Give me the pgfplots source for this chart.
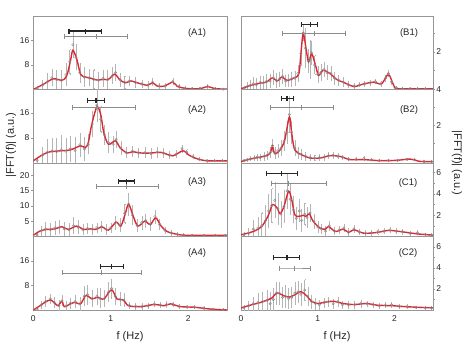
\documentclass[border=0pt]{standalone}
\usepackage{fontspec}
\setmainfont{Liberation Sans}
\setsansfont{Liberation Sans}
\usepackage{pgfplots}
\pgfplotsset{compat=1.18}
\definecolor{fftred}{RGB}{220,40,50}
\definecolor{framegray}{RGB}{150,150,150}
\definecolor{errgray}{RGB}{180,180,180}
\definecolor{indgray}{RGB}{140,140,140}
\tikzset{plab/.style={font=\fontsize{9.5}{10}\selectfont, text=black!85}}
\pgfplotsset{
  panel/.style={scale only axis, width=193.7pt, height=73.5pt, xmin=0, xmax=2.5,
    axis line style={framegray, line width=0.6pt}, xtick={0,1,2}, xticklabels={},
    xtick pos=bottom, tick align=outside, major tick length=2.2pt, minor tick length=1.5pt,
    tick style={framegray, line width=0.5pt}, major x tick style={draw=none},
    /pgf/number format/assume math mode=true,
    tick label style={font=\fontsize{8.5}{9}\selectfont, text=black!85}},
  leftpanel/.style={panel, ytick pos=left, yticklabel style={inner sep=1.5pt}},
  rightpanel/.style={panel, width=192pt, ytick pos=right, yticklabel style={inner sep=1pt}},
  redline/.style={fftred, line width=1.4pt, smooth, tension=0.5, no marks},
  datapts/.style={only marks, mark=o, mark size=1.2pt, draw=gray!90, mark options={line width=0.45pt, draw=gray!90},
    /pgfplots/error bars/y dir=both, /pgfplots/error bars/y explicit,
    /pgfplots/error bars/error bar style={errgray, line width=0.5pt},
    /pgfplots/error bars/error mark options={mark size=0.8pt, errgray}},
  indblack/.style={black!85, line width=1.2pt, mark=|, mark size=2.5pt, mark options={line width=1.2pt}},
  indgr/.style={indgray, line width=0.8pt, mark=|, mark size=2.5pt, mark options={line width=0.8pt}},
}
\begin{document}
\begin{tikzpicture}[x=1pt,y=1pt]
\useasboundingbox (0,0) rectangle (474,349);
% ---------------- A1
\begin{axis}[leftpanel, at={(33.3pt,259.5pt)}, anchor=south west, ymin=0, ymax=24, ytick={8,16}]
\addplot[datapts] table[row sep=\\, x index=0, y index=1, y error index=2]{
0.05 0.3 0.5\\ 0.12 1.5 1.5\\ 0.18 2.5 2.5\\ 0.24 3.8 2.5\\ 0.30 3.2 3\\ 0.36 3.0 3\\
0.42 4.8 3.5\\ 0.47 9.0 4\\ 0.51 14.6 4\\ 0.55 10.5 4\\ 0.60 5.5 3\\ 0.66 4.0 3\\
0.72 3.8 2.5\\ 0.78 3.3 3\\ 0.84 3.0 2.5\\ 0.90 3.6 2.5\\ 0.96 3.2 3\\ 1.02 4.5 2.5\\
1.06 5.5 2.5\\ 1.12 3.2 2\\ 1.18 2.3 2\\ 1.24 2.8 1.5\\ 1.32 2.3 1.5\\ 1.40 1.8 1.2\\
1.48 1.4 1\\ 1.54 2.4 1\\ 1.62 1.2 0.8\\ 1.70 1.1 0.8\\ 1.80 2.6 1\\ 1.88 1.0 0.6\\
1.96 0.4 0.4\\ 2.05 0.3 0.3\\ 2.15 0.3 0.3\\ 2.25 1.0 0.5\\ 2.35 0.3 0.3\\ 2.45 0.1 0.2\\
};
\addplot[redline] coordinates {(0,0) (0.13,1.7) (0.26,3.5) (0.37,3.0) (0.43,4.4) (0.48,9.4) (0.51,12.8) (0.56,10) (0.61,5) (0.67,4.1) (0.74,3.7) (0.82,3.1) (0.91,3.3) (0.97,3.3) (1.05,5.0) (1.12,3.1) (1.19,2.2) (1.26,2.8) (1.34,2.2) (1.47,1.4) (1.54,2.2) (1.60,1.1) (1.69,1.1) (1.80,2.4) (1.86,1.0) (1.99,0.3) (2.16,0.3) (2.25,1.0) (2.34,0.3) (2.5,0.1)};
\addplot[indblack] coordinates {(0.46,19.1) (0.67,19.1) (0.88,19.1)};
\addplot[indgr] coordinates {(0.40,17.2) (0.82,17.2) (1.22,17.2)};
\node[plab] at (rel axis cs:0.845,0.77) {(A1)};
\end{axis}
% ---------------- A2
\begin{axis}[leftpanel, at={(33.3pt,186pt)}, anchor=south west, ymin=0, ymax=23.5, ytick={8,16}]
\addplot[datapts] table[row sep=\\, x index=0, y index=1, y error index=2]{
0.05 0.8 1\\ 0.12 2.5 2.5\\ 0.18 3.4 4\\ 0.24 3.8 4\\ 0.30 3.6 4\\ 0.36 4.2 4.5\\
0.42 3.8 4\\ 0.48 4.5 4\\ 0.54 4.0 4\\ 0.60 5.8 3.5\\ 0.66 4.5 3.5\\ 0.71 6.0 3\\
0.76 12.5 4\\ 0.82 18.5 5\\ 0.87 14.0 4\\ 0.92 9.0 3\\ 0.97 6.5 3\\ 1.03 6.0 2.5\\
1.07 7.5 2.5\\ 1.13 4.8 2\\ 1.20 3.3 1.5\\ 1.28 3.8 1.5\\ 1.36 3.2 1.5\\ 1.44 3.3 1.5\\
1.52 3.0 1.5\\ 1.60 3.5 1.5\\ 1.68 3.2 1.2\\ 1.76 2.5 1\\ 1.84 2.8 1\\ 1.92 4.6 1\\
1.98 3.5 0.8\\ 2.06 2.0 0.6\\ 2.14 1.2 0.4\\ 2.24 0.7 0.3\\ 2.34 0.7 0.2\\ 2.44 0.7 0.2\\
};
\addplot[redline] coordinates {(0,0.7) (0.13,2.8) (0.22,3.6) (0.35,3.9) (0.48,4.2) (0.61,5.5) (0.67,4.9) (0.71,6.5) (0.75,11.8) (0.82,17.9) (0.87,15.5) (0.91,9.7) (0.97,6.0) (1.06,7.1) (1.12,4.9) (1.21,3.2) (1.28,3.6) (1.39,3.2) (1.52,3.2) (1.65,3.4) (1.80,2.3) (1.93,3.9) (2.01,2.5) (2.12,1.3) (2.25,0.7) (2.5,0.7)};
\addplot[indblack] coordinates {(0.70,19.9) (0.81,19.9) (0.92,19.9)};
\addplot[indgr] coordinates {(0.50,17.8) (0.82,17.8) (1.32,17.8)};
\node[plab] at (rel axis cs:0.845,0.72) {(A2)};
\end{axis}
% ---------------- A3
\begin{axis}[leftpanel, at={(33.3pt,112.5pt)}, anchor=south west, ymin=0, ymax=24, ytick={5,10,15,20}]
\addplot[datapts] table[row sep=\\, x index=0, y index=1, y error index=2]{
0.05 0.5 0.5\\ 0.10 1.8 1.5\\ 0.16 2.5 2\\ 0.22 2.2 2\\ 0.28 2.8 2\\ 0.34 3.0 2\\
0.40 2.5 2\\ 0.46 2.2 2\\ 0.52 3.5 2.5\\ 0.58 3.0 2\\ 0.64 2.2 1.5\\ 0.70 2.6 1.5\\
0.76 2.4 1.5\\ 0.82 2.8 1.5\\ 0.88 3.2 1.5\\ 0.94 2.4 1.5\\ 1.00 2.8 1.5\\ 1.06 4.5 2\\
1.12 3.8 2\\ 1.18 7.5 3\\ 1.23 10.5 3.5\\ 1.28 7.0 3\\ 1.34 3.6 2\\ 1.40 4.5 2\\
1.45 5.2 2\\ 1.51 4.0 2\\ 1.57 6.5 2\\ 1.63 4.0 1.5\\ 1.70 2.0 1\\ 1.78 1.2 0.8\\
1.86 0.7 0.4\\ 1.94 0.5 0.3\\ 2.05 0.4 0.2\\ 2.20 0.4 0.2\\ 2.35 0.4 0.2\\ 2.48 0.4 0.2\\
};
\addplot[redline] coordinates {(0,0.4) (0.087,1.8) (0.17,2.3) (0.28,2.5) (0.37,3.2) (0.45,2.3) (0.56,3.4) (0.65,2.3) (0.74,2.5) (0.80,2.3) (0.89,3.1) (0.97,2.1) (1.07,4.7) (1.13,3.4) (1.19,7.7) (1.23,10.6) (1.29,6.6) (1.35,3.4) (1.44,5.0) (1.51,3.9) (1.58,6.1) (1.65,3.4) (1.73,1.6) (1.86,0.7) (1.99,0.4) (2.5,0.4)};
\addplot[indblack] coordinates {(1.10,18.1) (1.20,18.1) (1.31,18.1)};
\addplot[indgr] coordinates {(0.81,16.3) (1.20,16.3) (1.62,16.3)};
\node[plab] at (rel axis cs:0.845,0.74) {(A3)};
\end{axis}
% ---------------- A4
\begin{axis}[leftpanel, at={(33.3pt,39pt)}, anchor=south west, ymin=0, ymax=24, ytick={8,16}, xticklabels={0,1,2}]
\addplot[datapts] table[row sep=\\, x index=0, y index=1, y error index=2]{
0.05 0.3 0.5\\ 0.10 1.6 1\\ 0.16 2.8 1.5\\ 0.22 3.6 1.5\\ 0.27 2.4 1.5\\ 0.33 1.5 1.5\\
0.37 3.0 1.5\\ 0.42 1.3 1.5\\ 0.48 2.2 1.5\\ 0.54 2.8 2\\ 0.60 2.0 2\\ 0.66 4.5 3\\
0.70 5.0 3\\ 0.76 3.8 2.5\\ 0.82 4.5 2.5\\ 0.86 3.8 3\\ 0.92 3.8 2.5\\ 0.97 5.8 3\\
1.01 7.0 3\\ 1.06 4.5 2.5\\ 1.12 3.5 2\\ 1.17 3.2 2\\ 1.24 1.5 1\\ 1.32 1.2 0.8\\
1.40 1.1 0.8\\ 1.48 1.3 0.8\\ 1.56 1.9 0.8\\ 1.64 1.6 0.8\\ 1.72 1.8 0.8\\ 1.80 1.8 0.6\\
1.88 1.2 0.5\\ 1.98 1.0 0.4\\ 2.08 0.9 0.4\\ 2.20 0.6 0.3\\ 2.32 0.3 0.2\\ 2.45 0.1 0.2\\
};
\addplot[redline] coordinates {(0,0) (0.087,1.4) (0.15,2.5) (0.22,3.3) (0.28,2.2) (0.32,1.4) (0.37,2.9) (0.40,1.1) (0.48,2.0) (0.54,2.5) (0.61,2.0) (0.68,4.7) (0.76,3.6) (0.83,4.2) (0.91,3.6) (1.01,6.6) (1.08,3.6) (1.16,3.3) (1.23,1.4) (1.39,1.1) (1.56,1.8) (1.69,1.4) (1.77,2.0) (1.90,1.1) (2.08,0.9) (2.29,0.3) (2.5,0)};
\addplot[indblack] coordinates {(0.866,14.1) (1.01,14.1) (1.16,14.1)};
\addplot[indgr] coordinates {(0.38,12.1) (0.88,12.1) (1.39,12.1)};
\node[plab] at (rel axis cs:0.845,0.77) {(A4)};
\end{axis}
% ---------------- B1
\begin{axis}[rightpanel, at={(241pt,259.5pt)}, anchor=south west, ymin=0, ymax=3.9, ytick={2}, minor ytick={1,3}]
\addplot[datapts] table[row sep=\\, x index=0, y index=1, y error index=2]{
0.04 0.05 0.1\\ 0.08 0.15 0.2\\ 0.12 0.22 0.25\\ 0.16 0.30 0.3\\ 0.20 0.25 0.3\\ 0.25 0.38 0.3\\
0.29 0.35 0.35\\ 0.33 0.42 0.35\\ 0.38 0.45 0.35\\ 0.42 0.62 0.35\\ 0.46 0.48 0.35\\ 0.50 0.55 0.35\\
0.54 0.70 0.35\\ 0.58 0.45 0.3\\ 0.62 0.50 0.3\\ 0.66 0.55 0.35\\ 0.70 0.60 0.35\\ 0.74 0.85 0.4\\
0.78 1.9 0.6\\ 0.81 3.0 0.4\\ 0.84 2.2 1.0\\ 0.88 1.5 0.6\\ 0.90 1.6 1.0\\ 0.92 1.95 0.6\\
0.96 1.3 0.5\\ 1.00 0.8 0.4\\ 1.04 0.9 0.4\\ 1.08 1.05 0.35\\ 1.12 0.9 0.35\\ 1.17 0.85 0.35\\
1.22 0.6 0.3\\ 1.27 0.5 0.25\\ 1.33 0.4 0.2\\ 1.40 0.25 0.15\\ 1.47 0.18 0.1\\ 1.54 0.25 0.1\\
1.61 0.30 0.1\\ 1.68 0.35 0.1\\ 1.75 0.42 0.1\\ 1.82 0.30 0.1\\ 1.88 0.60 0.15\\ 1.92 0.85 0.15\\
1.96 0.40 0.1\\ 2.02 0.1 0.05\\ 2.10 0.04 0.03\\ 2.20 0.04 0.03\\ 2.30 0.04 0.03\\ 2.40 0.04 0.03\\
};
\addplot[redline] coordinates {(0,0.04) (0.12,0.21) (0.25,0.34) (0.33,0.39) (0.41,0.62) (0.47,0.45) (0.53,0.66) (0.60,0.48) (0.66,0.57) (0.75,0.80) (0.78,1.9) (0.81,2.98) (0.85,2.09) (0.88,1.46) (0.92,1.9) (0.97,1.29) (1.01,0.75) (1.07,1.02) (1.16,0.84) (1.25,0.52) (1.33,0.39) (1.47,0.16) (1.60,0.30) (1.73,0.39) (1.83,0.30) (1.92,0.80) (1.99,0.21) (2.05,0.04) (2.5,0.04)};
\addplot[indblack] coordinates {(0.79,3.46) (0.90,3.46) (0.995,3.46)};
\addplot[indgr] coordinates {(0.54,2.98) (0.96,2.98) (1.36,2.98)};
\node[plab] at (rel axis cs:0.875,0.77) {(B1)};
\end{axis}
% ---------------- B2
\begin{axis}[rightpanel, at={(241pt,186pt)}, anchor=south west, ymin=-0.13, ymax=4, ytick={2,4}, minor ytick={1,3}]
\addplot[datapts] table[row sep=\\, x index=0, y index=1, y error index=2]{
0.04 0.0 0.05\\ 0.08 0.05 0.08\\ 0.12 0.10 0.1\\ 0.17 0.15 0.12\\ 0.21 0.2 0.15\\ 0.25 0.18 0.15\\
0.30 0.25 0.2\\ 0.34 0.30 0.2\\ 0.38 0.45 0.25\\ 0.41 0.85 0.3\\ 0.44 0.45 0.3\\ 0.48 0.55 0.35\\
0.52 0.70 0.4\\ 0.56 1.1 0.5\\ 0.60 1.6 0.6\\ 0.63 2.6 1.0\\ 0.66 1.6 0.6\\ 0.70 0.7 0.4\\
0.74 0.45 0.3\\ 0.79 0.35 0.25\\ 0.84 0.25 0.2\\ 0.90 0.18 0.15\\ 0.96 0.15 0.15\\ 1.02 0.18 0.15\\
1.08 0.2 0.15\\ 1.14 0.28 0.15\\ 1.20 0.3 0.15\\ 1.26 0.25 0.12\\ 1.32 0.2 0.1\\ 1.40 0.08 0.08\\
1.50 0.08 0.06\\ 1.60 0.12 0.08\\ 1.70 0.05 0.05\\ 1.80 0.0 0.05\\ 1.92 0.02 0.05\\ 2.04 0.02 0.04\\
2.16 0.08 0.05\\ 2.26 0.05 0.04\\ 2.38 -0.04 0.03\\ 2.48 -0.05 0.03\\
};
\addplot[redline] coordinates {(0,-0.05) (0.12,0.09) (0.25,0.2) (0.33,0.28) (0.38,0.43) (0.41,0.8) (0.44,0.39) (0.51,0.61) (0.57,1.17) (0.63,2.46) (0.66,1.54) (0.70,0.61) (0.79,0.33) (0.90,0.15) (1.03,0.15) (1.16,0.28) (1.29,0.24) (1.42,0.06) (1.60,0.06) (1.81,0) (2.03,0.02) (2.20,0.09) (2.33,-0.04) (2.5,-0.05)};
\addplot[indblack] coordinates {(0.53,3.48) (0.60,3.48) (0.68,3.48)};
\addplot[indgr] coordinates {(0.38,2.98) (0.78,2.98) (1.20,2.98)};
\node[plab] at (rel axis cs:0.875,0.72) {(B2)};
\end{axis}
% ---------------- C1
\begin{axis}[rightpanel, at={(241pt,112.5pt)}, anchor=south west, ymin=0, ymax=6.9, ytick={2,4,6}, minor ytick={1,3,5}]
\addplot[datapts] table[row sep=\\, x index=0, y index=1, y error index=2]{
0.04 0.15 0.2\\ 0.10 0.3 0.4\\ 0.16 0.7 0.8\\ 0.22 0.8 1.0\\ 0.27 1.0 1.2\\ 0.32 1.5 1.4\\
0.36 2.4 1.5\\ 0.40 2.9 1.6\\ 0.44 3.4 1.6\\ 0.48 2.6 1.4\\ 0.52 2.1 1.2\\ 0.56 2.8 1.5\\
0.60 4.3 1.6\\ 0.64 3.5 1.4\\ 0.68 2.5 1.2\\ 0.72 1.7 1.0\\ 0.76 2.4 1.0\\ 0.79 1.5 1.0\\
0.83 2.1 1.0\\ 0.86 1.8 0.9\\ 0.90 2.2 0.8\\ 0.95 1.4 0.6\\ 1.00 0.9 0.5\\ 1.05 0.7 0.4\\
1.10 0.5 0.4\\ 1.15 1.0 0.4\\ 1.22 0.5 0.3\\ 1.28 0.6 0.3\\ 1.34 0.8 0.3\\ 1.40 0.4 0.3\\
1.47 0.7 0.3\\ 1.54 0.4 0.2\\ 1.62 0.3 0.2\\ 1.70 0.35 0.2\\ 1.78 0.4 0.2\\ 1.86 0.5 0.2\\
1.94 0.6 0.2\\ 2.02 0.5 0.2\\ 2.10 0.45 0.2\\ 2.20 0.3 0.15\\ 2.30 0.35 0.15\\ 2.40 0.2 0.1\\
2.48 0.12 0.1\\
};
\addplot[redline] coordinates {(0,0.16) (0.16,0.47) (0.27,0.94) (0.36,2.05) (0.41,3.0) (0.47,2.68) (0.51,2.14) (0.56,2.83) (0.62,4.25) (0.66,3.46) (0.70,2.05) (0.75,1.89) (0.81,1.98) (0.85,1.89) (0.89,2.14) (0.94,1.42) (1.03,0.79) (1.10,0.69) (1.14,0.94) (1.23,0.47) (1.33,0.69) (1.40,0.38) (1.47,0.63) (1.60,0.31) (1.77,0.38) (1.92,0.57) (2.07,0.47) (2.29,0.25) (2.5,0.13)};
\addplot[indblack] coordinates {(0.33,5.9) (0.53,5.9) (0.74,5.9)};
\addplot[indgr] coordinates {(0.40,5.0) (0.62,5.0) (1.11,5.0)};
\node[plab] at (rel axis cs:0.87,0.73) {(C1)};
\end{axis}
% ---------------- C2
\begin{axis}[rightpanel, at={(241pt,39pt)}, anchor=south west, ymin=0, ymax=7, ytick={2,4,6}, minor ytick={1,3,5}, xticklabels={0,1,2}]
\addplot[datapts] table[row sep=\\, x index=0, y index=1, y error index=2]{
0.04 0.2 0.2\\ 0.10 0.4 0.4\\ 0.16 0.6 0.6\\ 0.22 0.7 0.8\\ 0.28 0.8 0.8\\ 0.34 0.9 0.9\\
0.38 0.6 1.0\\ 0.42 1.0 1.0\\ 0.46 1.6 1.0\\ 0.50 1.6 1.0\\ 0.54 1.2 0.9\\ 0.58 1.3 1.0\\
0.62 1.1 0.9\\ 0.66 1.2 0.9\\ 0.70 1.6 1.0\\ 0.74 1.7 1.0\\ 0.78 1.5 1.0\\ 0.83 1.9 1.0\\
0.87 1.3 0.8\\ 0.92 0.8 0.6\\ 0.97 0.6 0.5\\ 1.02 0.5 0.4\\ 1.08 0.7 0.4\\ 1.14 0.8 0.4\\
1.20 0.6 0.4\\ 1.26 0.8 0.4\\ 1.32 0.5 0.3\\ 1.40 0.5 0.3\\ 1.48 0.5 0.3\\ 1.56 0.6 0.3\\
1.64 0.6 0.2\\ 1.72 0.5 0.2\\ 1.80 0.4 0.2\\ 1.88 0.45 0.2\\ 1.96 0.5 0.2\\ 2.06 0.35 0.15\\
2.16 0.3 0.15\\ 2.28 0.25 0.1\\ 2.40 0.2 0.1\\ 2.48 0.2 0.1\\
};
\addplot[redline] coordinates {(0,0.2) (0.12,0.46) (0.25,0.71) (0.33,0.92) (0.40,1.14) (0.47,1.63) (0.55,1.38) (0.63,1.23) (0.70,1.45) (0.78,1.75) (0.85,1.38) (0.92,0.83) (1.00,0.62) (1.07,0.71) (1.20,0.83) (1.33,0.62) (1.47,0.52) (1.64,0.62) (1.77,0.46) (1.99,0.40) (2.16,0.31) (2.5,0.2)};
\addplot[indblack] coordinates {(0.42,4.98) (0.60,4.98) (0.76,4.98)};
\addplot[indgr] coordinates {(0.50,4.0) (0.70,4.0) (0.90,4.0)};
\node[plab] at (rel axis cs:0.87,0.77) {(C2)};
\end{axis}
% shared labels
\node[font=\fontsize{11}{12}\selectfont, rotate=90, text=black!85] at (11,204) {|FFT(f)| (a.u.)};
\node[font=\fontsize{11}{12}\selectfont, rotate=-90, text=black!85] at (457,186) {|FFT(f)| (a.u.)};
\node[font=\fontsize{11}{12}\selectfont, text=black!85] at (130,12) {f (Hz)};
\node[font=\fontsize{11}{12}\selectfont, text=black!85] at (337,12) {f (Hz)};
\end{tikzpicture}
\end{document}
